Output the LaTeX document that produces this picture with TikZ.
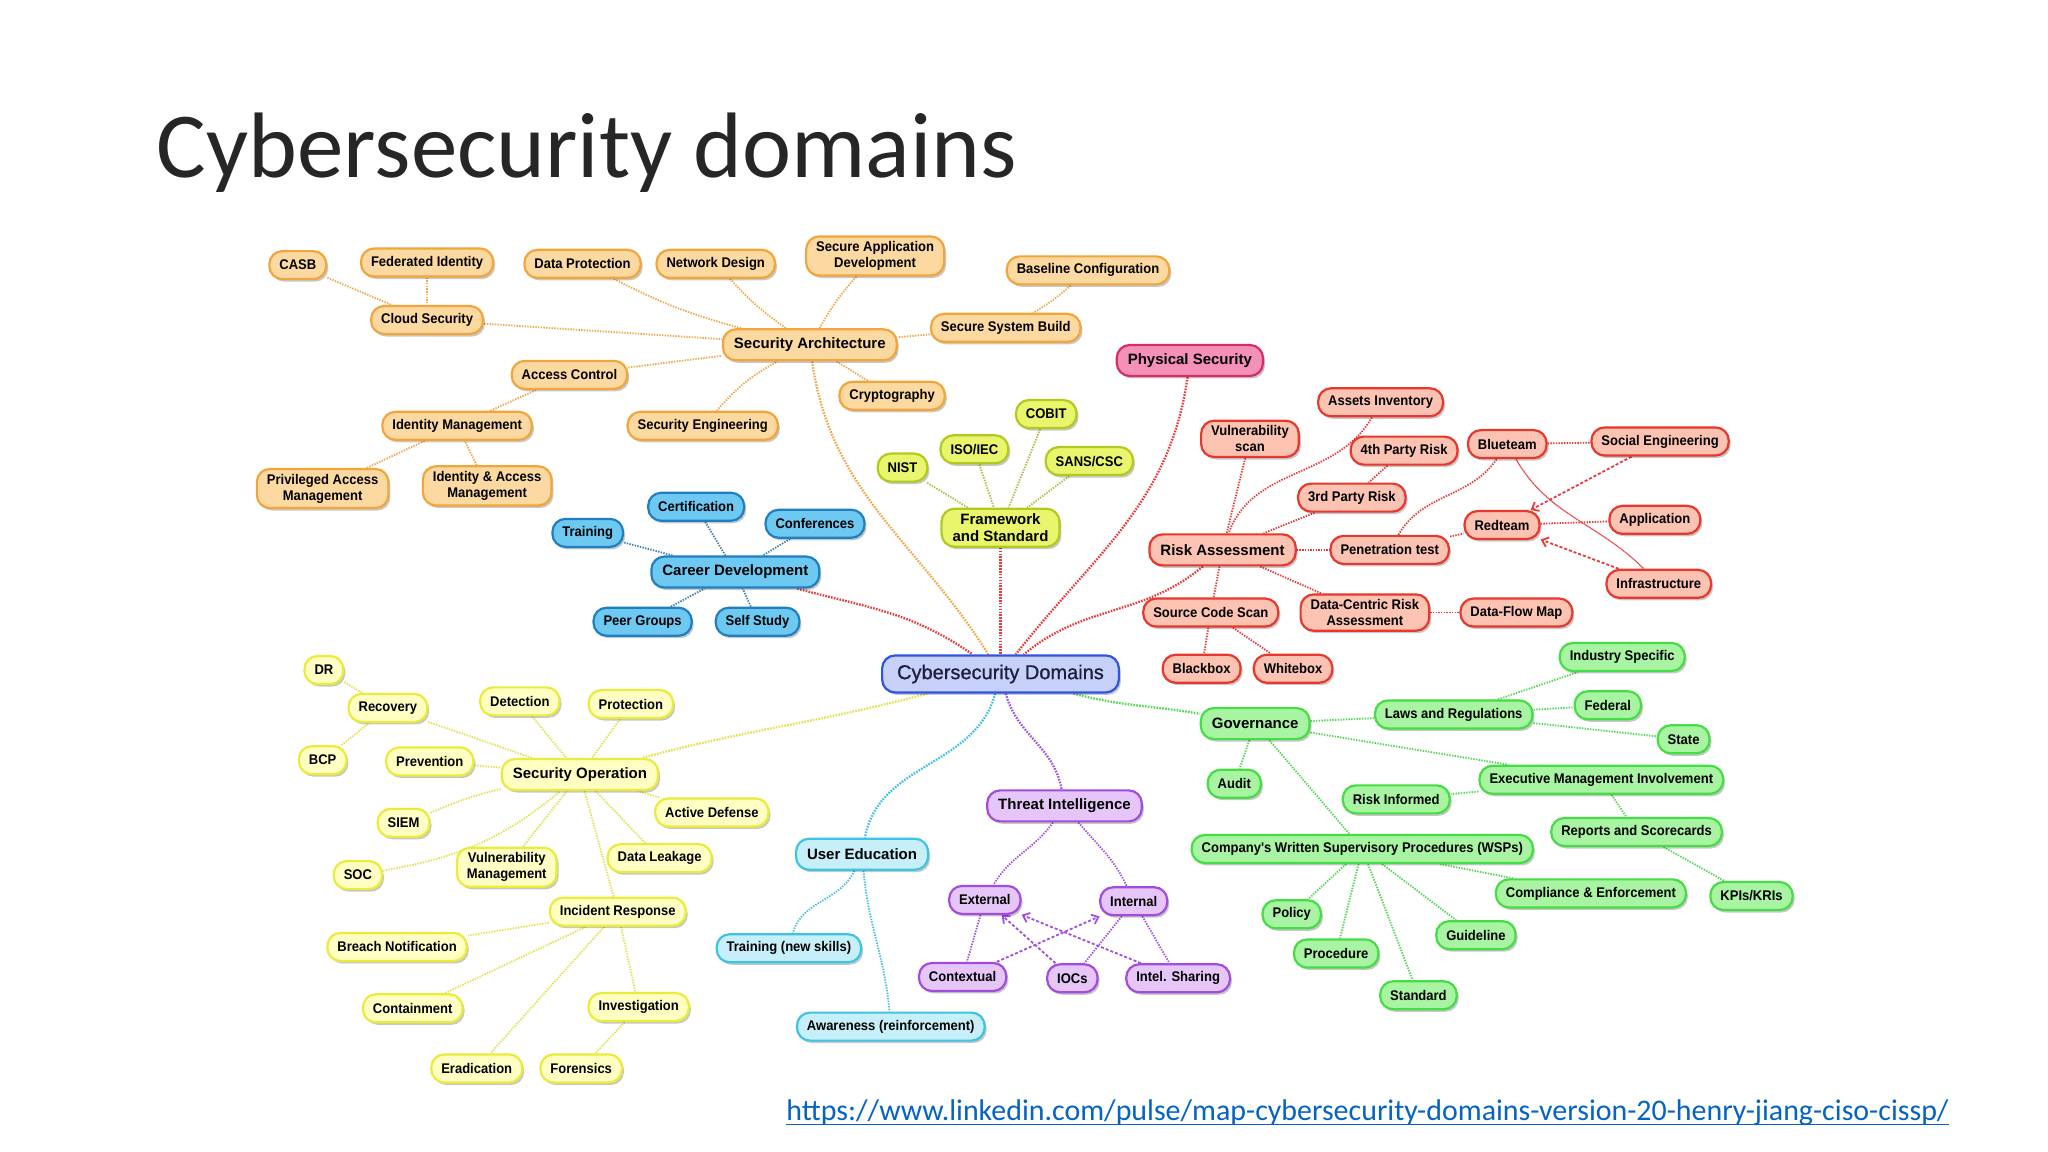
\documentclass[tikz,border=0pt]{standalone}
\usepackage{fontspec}
\usetikzlibrary{shadows,arrows.meta,backgrounds}
\newfontfamily\leaffont[FakeStretch=0.93]{Liberation Sans}
\newfontfamily\brfont{Liberation Sans}
\newfontfamily\rootfont[FakeBold=0.8]{Liberation Sans}
\newfontfamily\titlefont{Carlito}
\definecolor{orF}{HTML}{FDD9A2}\definecolor{orB}{HTML}{F2A53A}\definecolor{orL}{HTML}{F0A848}
\definecolor{pkF}{HTML}{F590B8}\definecolor{pkB}{HTML}{D42E68}
\definecolor{rdF}{HTML}{FCC3B3}\definecolor{rdB}{HTML}{E8372C}\definecolor{rdL}{HTML}{E83A3A}
\definecolor{fwF}{HTML}{E9F56C}\definecolor{fwB}{HTML}{B2CA1E}\definecolor{fwL}{HTML}{A8C040}
\definecolor{blF}{HTML}{6EC9F2}\definecolor{blB}{HTML}{1F7FC0}\definecolor{blL}{HTML}{3F7FB0}
\definecolor{rtF}{HTML}{C6D0F8}\definecolor{rtB}{HTML}{2F55E0}\definecolor{rtT}{HTML}{1C1C3C}
\definecolor{ywF}{HTML}{FFFFC4}\definecolor{ywB}{HTML}{EBEB3A}\definecolor{ywL}{HTML}{E2E250}
\definecolor{cyF}{HTML}{C6EFFA}\definecolor{cyB}{HTML}{3CC4E4}\definecolor{cyL}{HTML}{40C0E0}
\definecolor{puF}{HTML}{E6C6F8}\definecolor{puB}{HTML}{A24CDF}\definecolor{puL}{HTML}{A050E0}
\definecolor{gnF}{HTML}{A8F4A2}\definecolor{gnB}{HTML}{45DD45}\definecolor{gnL}{HTML}{50D850}
\definecolor{urlC}{HTML}{0563C1}\definecolor{ttlC}{HTML}{262626}
\tikzset{
  nd/.style={rounded corners=13pt, line width=2.2pt, inner xsep=10pt, inner ysep=5pt,
    minimum height=28pt, align=center, text=black,
    drop shadow={shadow xshift=2pt, shadow yshift=-2.5pt, opacity=0.22, fill=black},
    font=\leaffont\bfseries\fontsize{14}{16}\selectfont},
  mn/.style={nd, minimum height=31pt, inner xsep=11pt, font=\brfont\bfseries\fontsize{15}{17}\selectfont},
  orn/.style={draw=orB, fill=orF}, pkn/.style={draw=pkB, fill=pkF},
  rdn/.style={draw=rdB, fill=rdF}, fwn/.style={draw=fwB, fill=fwF},
  bln/.style={draw=blB, fill=blF}, ywn/.style={draw=ywB, fill=ywF},
  cyn/.style={draw=cyB, fill=cyF}, pun/.style={draw=puB, fill=puF},
  gnn/.style={draw=gnB, fill=gnF},
  ln/.style={line width=1.8pt, dash pattern=on 1.4pt off 1.3pt},
  rln/.style={line width=2.3pt, dash pattern=on 1.6pt off 1.3pt},
  arr/.style={line width=1.8pt, dash pattern=on 3pt off 2pt, -{Straight Barb[length=6pt,width=10pt]}},
}
\begin{document}
\begin{tikzpicture}[x=1.306pt, y=-1.306pt]
\useasboundingbox (0,0) rectangle (1568,882);
% title and link
\node[anchor=base west, inner sep=0, text=ttlC, font=\titlefont\fontsize{93}{93}\selectfont] (title) at (120,136) {Cybersecurity domains};
\node[anchor=base west, inner sep=0, text=urlC, font=\titlefont] (url) at (602,858) {\resizebox{1162pt}{!}{https://www.linkedin.com/pulse/map-cybersecurity-domains-version-20-henry-jiang-ciso-cissp/}};
\draw[urlC, line width=1.6pt] ([yshift=-4pt]url.base west) -- ([yshift=-4pt]url.base east);
% root
\node[nd, draw=rtB, fill=rtF, text=rtT, minimum height=37pt, inner xsep=15pt, font=\rootfont\fontsize{20}{22}\selectfont] (root) at (766,516) {Cybersecurity Domains};
% Security architecture
\node[nd,orn] (casb) at (228,203) {CASB};
\node[nd,orn] (fedid) at (327,201) {Federated Identity};
\node[nd,orn] (cloud) at (327,245) {Cloud Security};
\node[nd,orn] (dataprot) at (446,202) {Data Protection};
\node[nd,orn] (netdes) at (548,202) {Network Design};
\node[nd,orn] (secapp) at (670,196) {Secure Application\\Development};
\node[nd,orn] (baseline) at (833,207) {Baseline Configuration};
\node[nd,orn] (ssb) at (770,251) {Secure System Build};
\node[mn,orn] (sa) at (620,264) {Security Architecture};
\node[nd,orn] (access) at (436,287) {Access Control};
\node[nd,orn] (crypto) at (683,303) {Cryptography};
\node[nd,orn] (idm) at (350,326) {Identity Management};
\node[nd,orn] (seceng) at (538,326) {Security Engineering};
\node[nd,orn] (pam) at (247,374) {Privileged Access\\Management};
\node[nd,orn] (iam) at (373,372) {Identity \& Access\\Management};
% physical
\node[mn,pkn] (phys) at (911,276) {Physical Security};
% risk
\node[nd,rdn] (assets) at (1057,308) {Assets Inventory};
\node[nd,rdn] (vscan) at (957,336) {Vulnerability\\scan};
\node[nd,rdn] (fourth) at (1075,345) {4th Party Risk};
\node[nd,rdn] (third) at (1035,381) {3rd Party Risk};
\node[nd,rdn] (blue) at (1154,340) {Blueteam};
\node[nd,rdn] (soceng) at (1271,338) {Social Engineering};
\node[nd,rdn] (red) at (1150,402) {Redteam};
\node[nd,rdn] (app) at (1267,398) {Application};
\node[mn,rdn] (ra) at (936,421) {Risk Assessment};
\node[nd,rdn] (pt) at (1064,421) {Penetration test};
\node[nd,rdn] (infra) at (1270,447) {Infrastructure};
\node[nd,rdn] (scs) at (927,469) {Source Code Scan};
\node[nd,rdn] (dcra) at (1045,469) {Data-Centric Risk\\Assessment};
\node[nd,rdn] (dfm) at (1161,469) {Data-Flow Map};
\node[nd,rdn] (bbox) at (920,512) {Blackbox};
\node[nd,rdn] (wbox) at (990,512) {Whitebox};
% framework
\node[nd,fwn] (cobit) at (801,317) {COBIT};
\node[nd,fwn] (iso) at (746,344) {ISO/IEC};
\node[nd,fwn] (nist) at (691,358) {NIST};
\node[nd,fwn] (sans) at (834,353) {SANS/CSC};
\node[mn,fwn] (fw) at (766,404) {Framework\\and Standard};
% career
\node[nd,bln] (cert) at (533,388) {Certification};
\node[nd,bln] (conf) at (624,401) {Conferences};
\node[nd,bln] (training) at (450,408) {Training};
\node[mn,bln] (career) at (563,438) {Career Development};
\node[nd,bln] (peer) at (492,476) {Peer Groups};
\node[nd,bln] (self) at (580,476) {Self Study};
% security operation
\node[nd,ywn] (dr) at (248,513) {DR};
\node[nd,ywn] (recovery) at (297,542) {Recovery};
\node[nd,ywn] (detection) at (398,537) {Detection};
\node[nd,ywn] (protection) at (483,539) {Protection};
\node[nd,ywn] (bcp) at (247,582) {BCP};
\node[nd,ywn] (prevention) at (329,583) {Prevention};
\node[mn,ywn] (so) at (444,593) {Security Operation};
\node[nd,ywn] (active) at (545,622) {Active Defense};
\node[nd,ywn] (siem) at (309,630) {SIEM};
\node[nd,ywn] (vm) at (388,664) {Vulnerability\\Management};
\node[nd,ywn] (leak) at (505,657) {Data Leakage};
\node[nd,ywn] (soc) at (274,670) {SOC};
\node[nd,ywn] (ir) at (473,698) {Incident Response};
\node[nd,ywn] (breach) at (304,725) {Breach Notification};
\node[nd,ywn] (contain) at (316,772) {Containment};
\node[nd,ywn] (invest) at (489,771) {Investigation};
\node[nd,ywn] (erad) at (365,818) {Eradication};
\node[nd,ywn] (foren) at (445,818) {Forensics};
% user education
\node[mn,cyn] (ue) at (660,654) {User Education};
\node[nd,cyn] (tns) at (604,726) {Training (new skills)};
\node[nd,cyn] (aware) at (682,786) {Awareness (reinforcement)};
% threat intelligence
\node[mn,pun] (ti) at (815,617) {Threat Intelligence};
\node[nd,pun] (ext) at (754,689) {External};
\node[nd,pun] (intl) at (868,690) {Internal};
\node[nd,pun] (ctx) at (737,748) {Contextual};
\node[nd,pun] (iocs) at (821,749) {IOCs};
\node[nd,pun] (share) at (902,749) {Intel. Sharing};
% governance
\node[nd,gnn] (ind) at (1242,503) {Industry Specific};
\node[nd,gnn] (fed) at (1231,540) {Federal};
\node[mn,gnn] (gov) at (961,554) {Governance};
\node[nd,gnn] (laws) at (1113,547) {Laws and Regulations};
\node[nd,gnn] (state) at (1289,566) {State};
\node[nd,gnn] (audit) at (945,600) {Audit};
\node[nd,gnn] (exec) at (1226,597) {Executive Management Involvement};
\node[nd,gnn] (riskinf) at (1069,612) {Risk Informed};
\node[nd,gnn] (reports) at (1253,637) {Reports and Scorecards};
\node[nd,gnn] (wsp) at (1043,650) {Company's Written Supervisory Procedures (WSPs)};
\node[nd,gnn] (comp) at (1218,684) {Compliance \& Enforcement};
\node[nd,gnn] (kpi) at (1341,686) {KPIs/KRIs};
\node[nd,gnn] (policy) at (989,700) {Policy};
\node[nd,gnn] (guide) at (1130,716) {Guideline};
\node[nd,gnn] (proc) at (1023,730) {Procedure};
\node[nd,gnn] (std) at (1086,762) {Standard};

\begin{scope}[on background layer]
\fill[white] (0,0) rectangle (1568,882);
% root connectors
\draw[rln, orL] (sa) to[out=-82, in=122] (root);
\draw[rln, rdL] (phys) to[out=-98, in=52] (root);
\draw[rln, rdL] (ra) to[out=-140, in=40] (root);
\draw[rln, rdL] (fw) -- (root);
\draw[rln, rdL] (career) to[out=-15, in=145] (root);
\draw[rln, ywL] (root) to[out=-165, in=15] (so);
\draw[rln, cyL] (root) to[out=-105, in=80] (ue);
\draw[rln, puL] (root) to[out=-75, in=100] (ti);
\draw[rln, gnL] (root) to[out=-15, in=170] (gov);
% orange
\begin{scope}[ln, orL]
\draw (casb) -- (cloud);
\draw (fedid) -- (cloud);
\draw (cloud) -- (sa);
\draw (dataprot) to[bend right=6] (sa);
\draw (netdes) to[bend right=6] (sa);
\draw (secapp) to[bend right=6] (sa);
\draw (baseline) to[bend left=6] (ssb);
\draw (ssb) -- (sa);
\draw (access) -- (sa);
\draw (crypto) -- (sa);
\draw (seceng) to[bend left=10] (sa);
\draw (idm) -- (access);
\draw (pam) -- (idm);
\draw (iam) -- (idm);
\end{scope}
% red
\begin{scope}[ln, rdL]
\draw (vscan) -- (ra);
\draw (assets) to[out=-120, in=70] (ra);
\draw (third) -- (ra);
\draw (fourth) -- (third);
\draw (ra) -- (pt);
\draw (pt) to[out=60, in=-125] (blue);
\draw (pt) -- (red);
\draw (blue) -- (soceng);
\draw[line width=1.2pt, dash pattern=on 1pt off 0.5pt] (blue) to[out=-60, in=135] (infra);
\draw (red) -- (app);
\draw (ra) -- (scs);
\draw (ra) -- (dcra);
\draw (dcra) -- (dfm);
\draw (scs) -- (bbox);
\draw (scs) -- (wbox);
\end{scope}
\draw[arr, rdL] (soceng) -- (red);
\draw[arr, rdL] (infra) -- (red);
% framework
\begin{scope}[ln, fwL]
\draw (nist) -- (fw);
\draw (iso) -- (fw);
\draw (cobit) -- (fw);
\draw (sans) -- (fw);
\end{scope}
% career
\begin{scope}[ln, blL]
\draw (training) -- (career);
\draw (cert) -- (career);
\draw (conf) -- (career);
\draw (peer) -- (career);
\draw (self) -- (career);
\end{scope}
% security operation
\begin{scope}[ln, ywL]
\draw (dr) -- (recovery);
\draw (bcp) -- (recovery);
\draw (recovery) -- (so);
\draw (detection) -- (so);
\draw (protection) -- (so);
\draw (prevention) -- (so);
\draw (active) -- (so);
\draw (siem) to[bend left=5] (so);
\draw (soc) to[out=10, in=-140] (so);
\draw (vm) -- (so);
\draw (leak) -- (so);
\draw (ir) -- (so);
\draw (ir) -- (breach);
\draw (ir) -- (contain);
\draw (ir) -- (erad);
\draw (ir) -- (invest);
\draw (invest) -- (foren);
\end{scope}
% user education
\begin{scope}[ln, cyL]
\draw (ue) to[out=-115, in=75] (tns);
\draw (ue) to[out=-85, in=95] (aware);
\end{scope}
% threat intelligence
\begin{scope}[ln, puL]
\draw (ti) to[out=-125, in=60] (ext);
\draw (ti) to[out=-50, in=115] (intl);
\draw (ext) -- (ctx);
\draw (intl) -- (iocs);
\draw (intl) -- (share);
\end{scope}
\draw[arr, puL] (ctx) -- (intl);
\draw[arr, puL] (iocs) -- (ext);
\draw[arr, puL] (share) -- (ext);
% governance
\begin{scope}[ln, gnL]
\draw (gov) -- (audit);
\draw (gov) -- (laws);
\draw (laws) -- (ind);
\draw (laws) -- (fed);
\draw (laws) -- (state);
\draw (gov) -- (exec);
\draw (exec) -- (riskinf);
\draw (exec) -- (reports);
\draw (reports) -- (kpi);
\draw (gov) -- (wsp);
\draw (wsp) -- (policy);
\draw (wsp) -- (proc);
\draw (wsp) -- (std);
\draw (wsp) -- (guide);
\draw (wsp) -- (comp);
\end{scope}
\end{scope}
\end{tikzpicture}
\end{document}
